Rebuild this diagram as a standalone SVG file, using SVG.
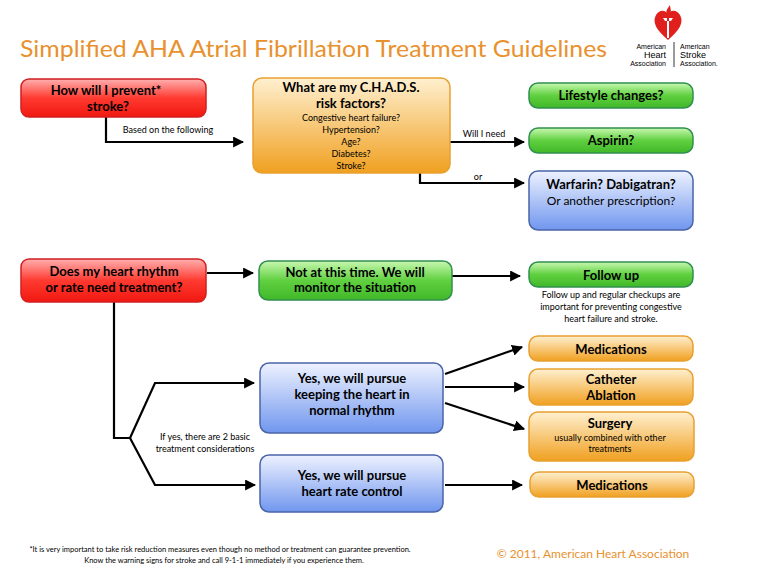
<svg xmlns="http://www.w3.org/2000/svg" width="768" height="576" viewBox="0 0 768 576">
<defs>
<linearGradient id="gr" x1="0" y1="0" x2="0" y2="1"><stop offset="0" stop-color="#ffb0b0"/><stop offset="0.5" stop-color="#ff3a30"/><stop offset="1" stop-color="#f01810"/></linearGradient>
<linearGradient id="go" x1="0" y1="0" x2="0" y2="1"><stop offset="0" stop-color="#fff0d0"/><stop offset="1" stop-color="#f0a020"/></linearGradient>
<linearGradient id="gg" x1="0" y1="0" x2="0" y2="1"><stop offset="0" stop-color="#c8f8b0"/><stop offset="0.5" stop-color="#60d040"/><stop offset="1" stop-color="#40b828"/></linearGradient>
<linearGradient id="gb" x1="0" y1="0" x2="0" y2="1"><stop offset="0" stop-color="#eef2ff"/><stop offset="1" stop-color="#7096ee"/></linearGradient>
<marker id="ar" viewBox="0 0 10 10" refX="9" refY="5" markerWidth="5" markerHeight="5" orient="auto"><path d="M0,0L10,5L0,10z" fill="#000"/></marker>
</defs>
<style>
.r{fill:url(#gr);stroke:#d02020;stroke-width:1.5}
.o{fill:url(#go);stroke:#e8a030;stroke-width:1.5}
.g{fill:url(#gg);stroke:#309050;stroke-width:1.5}
.b{fill:url(#gb);stroke:#4a64a8;stroke-width:1.5}
text{font-family:Lato,"Open Sans",sans-serif;fill:#000;text-anchor:middle}
.t{font-weight:bold;font-size:13px}
.s{font-size:9px}
.l{font-family:'Liberation Sans',sans-serif;font-size:7px}
.c path{fill:none;stroke:#000;stroke-width:2.2}
</style>
<rect width="768" height="576" fill="#fff"/>
<text x="20" y="57" style="text-anchor:start;font-size:24px;fill:#e8912e" textLength="587" lengthAdjust="spacingAndGlyphs">Simplified AHA Atrial Fibrillation Treatment Guidelines</text>
<g id="logo">
<path d="M668,52 C656,42 652,34 656,27 C660,21 666,22 668,27 C670,22 676,21 680,27 C684,34 680,42 668,52z" transform="translate(0,-12)" fill="#e0201c"/>
<path d="M667,38 L669,38 L669,18 L667,18z M663,18 L673,18 L671,21 L665,21z" fill="#fff"/>
<path d="M668,16 C664,12 668,8 670,5 C670,9 673,12 668,16z" fill="#e0201c"/>
<text x="666" y="49" class="l" style="text-anchor:end">American</text>
<text x="666" y="58" class="l" style="text-anchor:end;font-size:9px">Heart</text>
<text x="666" y="66" class="l" style="text-anchor:end">Association</text>
<line x1="674" y1="42" x2="674" y2="67" stroke="#000" stroke-width="0.8"/>
<text x="680" y="49" class="l" style="text-anchor:start">American</text>
<text x="680" y="58" class="l" style="text-anchor:start;font-size:9px">Stroke</text>
<text x="680" y="66" class="l" style="text-anchor:start">Association.</text>
</g>
<g class="c">
<path d="M106,117 V142 H243" marker-end="url(#ar)"/>
<path d="M450,142 H524" marker-end="url(#ar)"/>
<path d="M420,173 V183 H524" marker-end="url(#ar)"/>
<path d="M207,273 H253" marker-end="url(#ar)"/>
<path d="M452,276 H520" marker-end="url(#ar)"/>
<path d="M114,302 V438 H130"/>
<path d="M130,438 L155,383 H254" marker-end="url(#ar)"/>
<path d="M130,438 L155,485 H255" marker-end="url(#ar)"/>
<path d="M445,374 L522,347" marker-end="url(#ar)"/>
<path d="M445,387 H524" marker-end="url(#ar)"/>
<path d="M445,403 L524,429" marker-end="url(#ar)"/>
<path d="M445,485 H522" marker-end="url(#ar)"/>
</g>
<text x="168" y="133" class="s">Based on the following</text>
<text x="484" y="137" class="s">Will I need</text>
<text x="478" y="180" class="s">or</text>
<text x="205" y="440" class="s">If yes, there are 2 basic</text>
<text x="205" y="452" class="s">treatment considerations</text>
<g id="n1"><rect class="r" x="21" y="79" width="185" height="38" rx="8"/><text x="106" y="95" class="t">How will I prevent*</text><text x="108" y="111" class="t">stroke?</text></g>
<g id="n2"><rect class="o" x="253" y="78" width="197" height="95" rx="9"/><text x="351" y="92" class="t">What are my C.H.A.D.S.</text><text x="351" y="108" class="t">risk factors?</text>
<text x="351" y="121" class="s">Congestive heart failure?</text><text x="351" y="133" class="s">Hypertension?</text><text x="351" y="145" class="s">Age?</text><text x="351" y="157" class="s">Diabetes?</text><text x="351" y="169" class="s">Stroke?</text></g>
<g id="n3"><rect class="g" x="529" y="83" width="164" height="25" rx="9"/><text x="611" y="100" class="t">Lifestyle changes?</text></g>
<g id="n4"><rect class="g" x="529" y="128" width="164" height="25" rx="9"/><text x="611" y="145" class="t">Aspirin?</text></g>
<g id="n5"><rect class="b" x="529" y="171" width="164" height="59" rx="9"/><text x="611" y="189" class="t">Warfarin? Dabigatran?</text><text x="611" y="205" style="font-size:12px">Or another prescription?</text></g>
<g id="n6"><rect class="r" x="21" y="259" width="185" height="43" rx="8"/><text x="114" y="276" class="t">Does my heart rhythm</text><text x="114" y="292" class="t">or rate need treatment?</text></g>
<g id="n7"><rect class="g" x="259" y="261" width="193" height="39" rx="9"/><text x="355" y="277" class="t">Not at this time. We will</text><text x="355" y="292" class="t">monitor the situation</text></g>
<g id="n8"><rect class="g" x="529" y="262" width="164" height="25" rx="9"/><text x="611" y="280" class="t">Follow up</text>
<text x="611" y="298" class="s">Follow up and regular checkups are</text><text x="611" y="310" class="s">important for preventing congestive</text><text x="611" y="322" class="s">heart failure and stroke.</text></g>
<g id="n9"><rect class="o" x="529" y="336" width="164" height="25" rx="9"/><text x="611" y="354" class="t">Medications</text></g>
<g id="n10"><rect class="o" x="529" y="369" width="164" height="36" rx="9"/><text x="611" y="384" class="t">Catheter</text><text x="611" y="400" class="t">Ablation</text></g>
<g id="n11"><rect class="o" x="529" y="412" width="165" height="49" rx="9"/><text x="610" y="428" class="t">Surgery</text><text x="610" y="441" class="s">usually combined with other</text><text x="610" y="452" class="s">treatments</text></g>
<g id="n12"><rect class="b" x="260" y="363" width="183" height="70" rx="9"/><text x="352" y="383" class="t">Yes, we will pursue</text><text x="352" y="399" class="t">keeping the heart in</text><text x="352" y="415" class="t">normal rhythm</text></g>
<g id="n13"><rect class="b" x="260" y="455" width="183" height="57" rx="9"/><text x="352" y="480" class="t">Yes, we will pursue</text><text x="352" y="496" class="t">heart rate control</text></g>
<g id="n14"><rect class="o" x="530" y="472" width="164" height="25" rx="9"/><text x="612" y="490" class="t">Medications</text></g>
<text x="220" y="552" style="font-size:7.5px">*It is very important to take risk reduction measures even though no method or treatment can guarantee prevention.</text>
<text x="224" y="563" style="font-size:7.5px">Know the warning signs for stroke and call 9-1-1 immediately if you experience them.</text>
<text x="593" y="558" style="font-size:12px;fill:#e8912e">© 2011, American Heart Association</text>
</svg>
